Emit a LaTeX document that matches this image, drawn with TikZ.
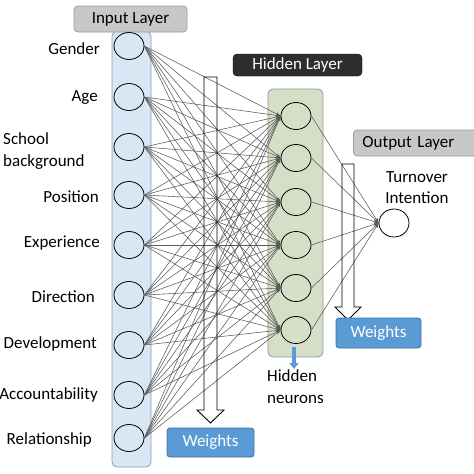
\documentclass[tikz,border=0pt]{standalone}
\usepackage{fontspec}
\setmainfont{Carlito}
\usetikzlibrary{shapes.geometric,arrows.meta}
\definecolor{incolfill}{HTML}{D9E6F3}
\definecolor{incoldraw}{HTML}{7F9FBF}
\definecolor{hidfill}{HTML}{D6DEC8}
\definecolor{hiddraw}{HTML}{7FA0A0}
\definecolor{taggray}{HTML}{C8C8C8}
\definecolor{tagdraw}{HTML}{9A9A9A}
\definecolor{wblue}{HTML}{5B9BD5}
\definecolor{wbluedraw}{HTML}{41719C}
\definecolor{linkc}{HTML}{5A5A5A}
\tikzset{
  column/.style={rounded corners=5, minimum width=#1, inner sep=0},
  neuron/.style={ellipse, draw=black, line width=0.8pt, minimum width=30, minimum height=27, inner sep=0},
  graytag/.style={draw=tagdraw, fill=taggray, rounded corners=4, inner sep=0, line width=0.8pt},
  darktag/.style={draw=black, fill=black!82, text=white, rounded corners=4, inner sep=0},
  weightbox/.style={draw=wbluedraw, fill=wblue, text=white, rounded corners=3, inner sep=0, line width=0.8pt},
  link/.style={draw=linkc, line width=0.55pt, -{Stealth[length=5pt,width=3.5pt]}},
  hollowarrow/.style={draw=black, line width=0.9pt, line join=miter},
  inlabel/.style={anchor=east, inner sep=0},
}
\begin{document}
\begin{tikzpicture}[x=1pt,y=-1pt,font=\fontsize{17}{21}\selectfont]
\clip (0,0) rectangle (474,474);
\fill[white] (0,0) rectangle (474,474);

% columns
\node[column=39, draw=incoldraw, fill=incolfill, minimum height=436, line width=0.8pt] (incol) at (131.5,249) {};
\node[column=55, draw=hiddraw, fill=hidfill, minimum height=268, line width=0.8pt] (hidcol) at (295.5,223) {};

% tags
\node[graytag, minimum width=113, minimum height=26] (intag) at (130.5,19) {Input Layer};
\node[darktag, minimum width=129, minimum height=22] (hidtag) at (297.5,65) {Hidden Layer};
\node[graytag, anchor=west, minimum height=26, text width=112, inner xsep=9, align=left] (outtag) at (353,143) {Output Layer};

% input neurons
\foreach \n/\y in {1/46,2/97,3/147,4/195,5/245,6/295,7/345,8/395,9/438}{
  \node[neuron] (i\n) at (129,\y) {};
}
% hidden neurons
\foreach \n/\y in {1/116,2/158,3/202,4/245,5/288,6/330}{
  \node[neuron, fill=hidfill] (h\n) at (296,\y) {};
}
% output neuron
\node[neuron, fill=white, minimum height=28] (o) at (394,223) {};

% links
\foreach \i in {1,...,9}{
  \foreach \h in {1,...,6}{
    \draw[link] (i\i.east) -- (h\h.west);
  }
}
\foreach \h in {1,...,6}{
  \draw[link] (h\h.east) -- (o.west);
}

% input labels
\node[inlabel] (lgender) at (100,49) {Gender};
\node[inlabel] (lage) at (98,98) {Age};
\node[anchor=west, inner sep=0, align=left, font=\fontsize{17}{22}\selectfont] (lschool) at (3,151) {School\\background};
\node[inlabel] (lpos) at (99,197) {Position};
\node[inlabel] (lexp) at (100,243) {Experience};
\node[inlabel] (ldir) at (95,297) {Direction};
\node[inlabel] (ldev) at (97,344) {Development};
\node[inlabel] (lacc) at (98,395) {Accountability};
\node[inlabel] (lrel) at (92,440) {Relationship};

% hollow arrows
\draw[hollowarrow] (204,77) -- (204,410) -- (197,410) -- (210.5,423) -- (224,410) -- (217,410) -- (217,77) -- cycle;
\draw[hollowarrow] (342,164) -- (342,307) -- (335,307) -- (348,320) -- (361,307) -- (354,307) -- (354,164) -- cycle;

% weights boxes
\node[weightbox, minimum width=87, minimum height=29] (w1) at (210.5,442.5) {Weights};
\node[weightbox, minimum width=85, minimum height=30] (w2) at (378.5,333) {Weights};

% output label
\node[align=center, inner sep=0] (turn) at (417,188) {Turnover\\Intention};

% hidden neurons label
\coordinate (hnstart) at (294,347);
\node[anchor=north west, align=left, inner sep=0, font=\fontsize{17}{22}\selectfont] (hn) at (267,369) {Hidden\\neurons};
\draw[draw=wblue, line width=4pt, -{Triangle[width=9pt,length=6pt]}] (hnstart) -- (hnstart |- hn.north);
\end{tikzpicture}
\end{document}
